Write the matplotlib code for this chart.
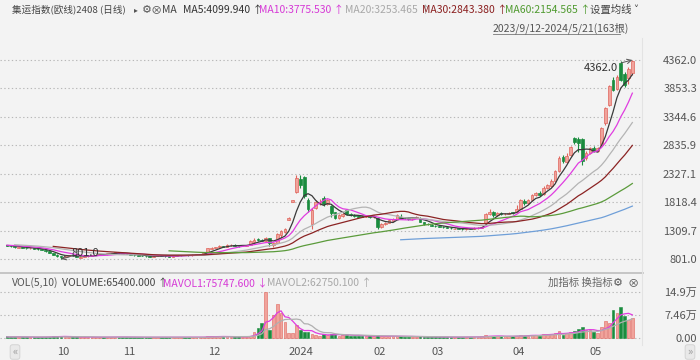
import numpy as np
import pandas as pd
import matplotlib
matplotlib.use("Agg")
import matplotlib.pyplot as plt
from matplotlib.lines import Line2D

plt.rcParams['font.family'] = ['Noto Sans CJK SC', 'DejaVu Sans']

# ---- daily bars 2023/9/12 - 2024/5/21 (163 bars) ----
opens = [
    1050, 1040, 1030, 1005, 1015, 1000, 990, 1000, 985, 975, 965, 940, 905,
    880, 850, 835, 860, 875, 860, 825, 840, 850, 860, 870, 880, 890, 885, 900, 905, 915,
    905, 895, 890, 880, 870, 858, 855, 850, 845, 855, 865, 860, 850, 845, 855, 865, 875, 870, 865, 880, 885, 890,
    920, 985, 1000, 1010, 1035, 1020, 1050, 1060, 1040, 1030, 1040, 1060, 1110, 1160, 1150, 1120, 1170, 1050, 1090, 1230, 1290,
    1500, 1830, 2000, 2230, 2260, 1850, 1420, 1720, 1800, 1900, 1780, 1750, 1640, 1540, 1575, 1670, 1610, 1590, 1580, 1565, 1550, 1565,
    1545, 1530, 1380, 1420, 1450, 1490, 1520, 1560, 1540, 1530, 1515, 1540, 1540, 1460, 1430,
    1415, 1400, 1385, 1380, 1365, 1360, 1340, 1350, 1340, 1330, 1350, 1335, 1350, 1360, 1450, 1600, 1640, 1580, 1620, 1600, 1610,
    1635, 1640, 1700, 1840, 1800, 1860, 1945, 1990, 1960, 2070, 2100, 2190, 2370, 2620, 2540, 2660, 2960, 2950, 2950, 2600,
    2700, 2790, 2740, 2850, 3240, 3560, 4000, 3850, 4300, 4120, 4040, 4130,
]
closes = [
    1040, 1030, 1010, 1015, 1000, 995, 1000, 985, 975, 965, 940, 910, 880,
    850, 830, 860, 870, 865, 845, 840, 850, 860, 870, 880, 890, 885, 900, 910, 920, 905,
    895, 890, 880, 870, 860, 855, 850, 845, 855, 865, 860, 850, 845, 855, 865, 875, 870, 865, 880, 885, 890, 900,
    990, 1000, 1010, 1030, 1020, 1050, 1060, 1040, 1030, 1040, 1050, 1120, 1150, 1140, 1130, 1180, 1090, 1080, 1240, 1300, 1340,
    1540, 1860, 2250, 2120, 1920, 1700, 1680, 1820, 1830, 1780, 1850, 1620, 1540, 1580, 1600, 1600, 1580, 1570, 1560, 1555, 1560, 1550,
    1560, 1370, 1430, 1450, 1500, 1520, 1580, 1540, 1530, 1520, 1540, 1550, 1470, 1430, 1420,
    1400, 1390, 1380, 1370, 1360, 1350, 1345, 1340, 1335, 1350, 1340, 1355, 1360, 1380, 1610, 1640, 1580, 1620, 1600, 1610, 1630,
    1620, 1700, 1850, 1800, 1850, 1950, 1980, 1950, 2080, 2120, 2200, 2380, 2600, 2560, 2650, 2800, 2900, 2880, 2560, 2700,
    2780, 2740, 2790, 3150, 3500, 3900, 3830, 4050, 4010, 3920, 4200, 4340,
]
highs = [
    1060, 1045, 1035, 1020, 1020, 1005, 1005, 1005, 990, 980, 970, 945, 910,
    885, 855, 870, 880, 880, 865, 850, 860, 865, 875, 885, 895, 895, 905, 915, 930, 920,
    910, 900, 895, 885, 875, 865, 860, 855, 860, 870, 870, 865, 855, 860, 870, 880, 880, 875, 885, 892, 898, 910,
    1000, 1015, 1020, 1045, 1040, 1065, 1075, 1065, 1045, 1050, 1060, 1140, 1175, 1170, 1165, 1200, 1175, 1095, 1260, 1320, 1356,
    1545, 1860, 2300, 2310, 2290, 1900, 1720, 1850, 1870, 1930, 1880, 1760, 1650, 1600, 1620, 1690, 1625, 1600, 1590, 1575, 1575, 1575,
    1580, 1540, 1445, 1470, 1520, 1540, 1600, 1610, 1555, 1545, 1555, 1565, 1545, 1470, 1440,
    1425, 1410, 1400, 1390, 1375, 1370, 1360, 1360, 1350, 1360, 1360, 1365, 1375, 1400, 1625, 1700, 1660, 1640, 1635, 1625, 1645,
    1645, 1760, 1880, 1870, 1870, 1970, 2000, 2010, 2100, 2150, 2230, 2400, 2640, 2660, 2700, 2830, 2990, 2980, 2960, 2730,
    2810, 2820, 2810, 3170, 3520, 3920, 4050, 4100, 4340, 4140, 4230, 4362,
]
lows = [
    1030, 1020, 1005, 1000, 995, 985, 985, 980, 965, 955, 930, 900, 870,
    835, 801, 830, 850, 855, 835, 815, 835, 845, 855, 865, 875, 878, 880, 895, 900, 898,
    888, 882, 872, 862, 852, 848, 842, 838, 840, 850, 852, 845, 838, 840, 850, 860, 865, 858, 860, 875, 880, 885,
    915, 975, 990, 1005, 1010, 1015, 1040, 1030, 1020, 1025, 1035, 1055, 1100, 1125, 1115, 1110, 1030, 1020, 1085, 1180, 1270,
    1500, 1820, 1990, 2080, 1900, 1650, 1340, 1700, 1770, 1750, 1760, 1560, 1510, 1520, 1560, 1590, 1570, 1560, 1550, 1545, 1545, 1540,
    1540, 1330, 1355, 1405, 1440, 1480, 1510, 1530, 1515, 1505, 1505, 1530, 1455, 1415, 1405,
    1390, 1380, 1370, 1360, 1350, 1340, 1335, 1330, 1325, 1325, 1330, 1330, 1345, 1355, 1440, 1580, 1560, 1570, 1590, 1590, 1600,
    1600, 1630, 1690, 1770, 1790, 1850, 1930, 1930, 1950, 2050, 2090, 2180, 2360, 2520, 2520, 2640, 2860, 2720, 2480, 2580,
    2680, 2720, 2720, 2830, 3200, 3540, 3800, 3820, 3990, 3880, 3940, 4100,
]
volumes = [
    6000, 4000, 3500, 3000, 2500, 3000, 2500, 3000, 3500, 3000, 4000, 4500, 5000,
    6000, 5500, 4500, 3500, 3000, 3000, 4000, 3500, 3000, 2500, 2500, 3000, 2500, 3000, 3500, 4000, 3000,
    3000, 2500, 2500, 3000, 2500, 2000, 2000, 2500, 2000, 2500, 2000, 2500, 2000, 2500, 2000, 2500, 2000, 2000, 2500, 2500, 3000, 3500,
    6000, 5000, 4500, 5000, 4000, 5000, 4500, 4000, 3500, 4000, 4500, 8000, 19000, 32000, 48000, 149200, 26000, 74500, 110000, 81000, 52000,
    16000, 16000, 42000, 26000, 20000, 18000, 12000, 9000, 8000, 12000, 9000, 14000, 12000, 8000, 9000, 10000, 8000, 7000, 8000, 7000, 6000, 6500,
    5000, 9000, 6000, 5000, 5500, 5000, 6000, 5000, 4500, 4000, 4500, 4000, 5000, 4500, 4000,
    3500, 3500, 3000, 3000, 3000, 3000, 3000, 3000, 3000, 3500, 3000, 3500, 4000, 5000, 9000, 7000, 6000, 5500, 5000, 5000, 6000,
    5500, 8000, 9000, 7000, 8000, 10000, 9000, 8000, 14000, 12000, 13000, 15000, 22000, 10000, 16000, 19000, 22000, 29000, 35000, 25000,
    25000, 20000, 16000, 35000, 55000, 50000, 90000, 81000, 100000, 71000, 58000, 65400,
]
# bars before the visible window, only used to warm up the moving averages
pre_closes = [1080, 1100, 1090, 1070, 1060, 1075, 1085, 1065, 1050, 1045, 1060, 1055, 1040, 1050, 1045, 1035, 1050]
pre_volumes = [9000, 7000, 6000, 5000, 5000, 4500, 4000, 4500, 4000, 3500, 4000, 3500, 3000, 3500, 3000, 3000, 4000]

ma_periods = [5, 10, 20, 30, 60, 120]
ma_colors = ['#3a3a3a', '#e03ce0', '#b4b4b4', '#8b2323', '#5b9b3b', '#6f9fd8']

price_ticks = [801.0, 1309.7, 1818.4, 2327.1, 2835.9, 3344.6, 3853.3, 4362.0]
vol_ticks = [0, 74600, 149200]
vol_tick_labels = ['0.00', '7.46万', '14.9万']
month_pos = [13, 30, 52, 73, 95, 110, 131, 151]
month_labels = ['10', '11', '12', '2024', '02', '03', '04', '05']

BG = '#f3f3f3'
RED_FACE, RED_EDGE, GREEN = '#f0a39b', '#e0645c', '#1a8c3e'
W, H = 700, 360


def px_rect(x0, y0, x1, y1):
    return [x0 / W, 1 - y1 / H, (x1 - x0) / W, (y1 - y0) / H]


def ftext(x, y, s, **kw):
    kw.setdefault('fontsize', 7.5)
    kw.setdefault('va', 'center')
    fig.text(x / W, 1 - y / H, s, **kw)


o = np.array(opens, float)
c = np.array(closes, float)
h = np.array(highs, float)
l = np.array(lows, float)
v = np.array(volumes, float)
n = len(c)
idx = np.arange(n)
k = len(pre_closes)
up = c >= o
face = np.where(up, RED_FACE, GREEN)
edge = np.where(up, RED_EDGE, GREEN)

all_c = pd.Series(pre_closes + closes, dtype=float)
all_v = pd.Series(pre_volumes + volumes, dtype=float)

fig = plt.figure(figsize=(7, 3.6), dpi=100, facecolor=BG)

# ---- price panel ----
ax = fig.add_axes(px_rect(0, 40, 642, 268), facecolor=BG)
ax.vlines(idx, l, h, colors=edge, lw=0.8, zorder=2)
ax.bar(idx, np.abs(c - o), bottom=np.minimum(o, c), width=0.7,
       color=face, edgecolor=edge, lw=0.5, zorder=2)
for p, col in zip(ma_periods, ma_colors):
    ax.plot(idx, all_c.rolling(p).mean().values[k:], color=col, lw=0.9, zorder=3)

ax.set_xlim(-1.8, 164.5)
ax.set_ylim(640, 4720)
ax.set_xticks([])
ax.yaxis.tick_right()
ax.set_yticks(price_ticks)
ax.set_yticklabels([f'{t:.1f}' for t in price_ticks])
ax.tick_params(axis='y', length=0, pad=39.6, labelsize=8, labelcolor='#555')
for t in ax.get_yticklabels():
    t.set_ha('right')
ax.grid(axis='y', color='#b8b8b8', linestyle=(0, (1.2, 2.2)), lw=0.8)
ax.set_axisbelow(True)
for s in ax.spines.values():
    s.set_visible(False)

hi = int(np.argmax(h))
lo = int(np.argmin(l))
ax.annotate(f'{h[hi]:.1f}', xy=(hi, h[hi]), xytext=(-14, -8), textcoords='offset pixels',
            ha='right', va='center', fontsize=8, color='#333',
            arrowprops=dict(arrowstyle='->', color='#555', lw=0.7, shrinkA=0, shrinkB=0))
ax.annotate(f'{l[lo]:.1f}', xy=(lo, l[lo]), xytext=(11, 6), textcoords='offset pixels',
            ha='left', va='center', fontsize=8, color='#333',
            arrowprops=dict(arrowstyle='->', color='#555', lw=0.7, shrinkA=0, shrinkB=0))

# ---- volume panel ----
ax2 = fig.add_axes(px_rect(0, 287, 642, 341), facecolor=BG)
ax2.bar(idx, v, width=0.7, color=face, edgecolor=edge, lw=0.4, zorder=2)
ax2.plot(idx, all_v.rolling(5).mean().values[k:], color='#e03ce0', lw=0.9, zorder=3)
ax2.plot(idx, all_v.rolling(10).mean().values[k:], color='#b0b0b0', lw=0.9, zorder=3)
ax2.set_xlim(-1.8, 164.5)
ax2.set_ylim(-9730, 165420)
ax2.yaxis.tick_right()
ax2.set_yticks(vol_ticks)
ax2.set_yticklabels(vol_tick_labels)
ax2.tick_params(axis='y', length=0, pad=39.6, labelsize=8, labelcolor='#555')
for t in ax2.get_yticklabels():
    t.set_ha('right')
ax2.set_xticks(month_pos)
ax2.set_xticklabels(month_labels, ha='left')
ax2.tick_params(axis='x', length=0, pad=4, labelsize=8, labelcolor='#555')
ax2.grid(axis='y', color='#b8b8b8', linestyle=(0, (1.2, 2.2)), lw=0.8)
ax2.set_axisbelow(True)
for s in ax2.spines.values():
    s.set_visible(False)

# separators
fig.add_artist(Line2D([0, 643 / W], [1 - 273 / H] * 2, color='#bdbdbd', lw=1.2))
fig.add_artist(Line2D([642 / W] * 2, [1 - 345 / H, 1 - 38 / H], color='#e3e3e3', lw=0.8))

# ---- header texts ----
ftext(12, 10, '集运指数(欧线)2408 (日线)', color='#444', fontsize=6.9)
ftext(134, 10, '▸', color='#555', fontsize=5.5)
ftext(142, 10, '⚙', color='#555', fontsize=8)
ftext(151, 10, '⊗', color='#555', fontsize=8)
ftext(162, 10, 'MA', color='#444')
ftext(183, 10, 'MA5:4099.940 ↑', color='#333')
ftext(259, 10, 'MA10:3775.530 ↑', color='#d63ad6')
ftext(345, 10, 'MA20:3253.465 ↑', color='#a8a8a8')
ftext(422, 10, 'MA30:2843.380 ↑', color='#8b1f1f')
ftext(505, 10, 'MA60:2154.565 ↑', color='#4f9a2f')
ftext(590, 10, '设置均线 ˅', color='#444')
ftext(493, 28, '2023/9/12-2024/5/21(163根)', color='#555')
fig.add_artist(Line2D([493 / W, 620 / W], [1 - 34 / H] * 2, color='#777', lw=0.6))

ftext(12, 283, 'VOL(5,10)', color='#555')
ftext(62, 283, 'VOLUME:65400.000 ↑', color='#444')
ftext(163, 283, 'MAVOL1:75747.600 ↓', color='#d63ad6')
ftext(267, 283, 'MAVOL2:62750.100 ↑', color='#a8a8a8')
ftext(548, 283, '加指标 换指标', color='#666')
ftext(613, 283, '⚙', color='#555', fontsize=8)
ftext(628, 283, '⊗', color='#555', fontsize=8)

ftext(15, 352, '«', color='#999', fontsize=8, ha='center',
      bbox=dict(boxstyle='round,pad=0.2', fc='#e9e9e9', ec='#d0d0d0', lw=0.6))
ftext(690, 352, '»', color='#999', fontsize=8, ha='center',
      bbox=dict(boxstyle='round,pad=0.2', fc='#e9e9e9', ec='#d0d0d0', lw=0.6))

fig.savefig('out.png', dpi=100, facecolor=BG)
